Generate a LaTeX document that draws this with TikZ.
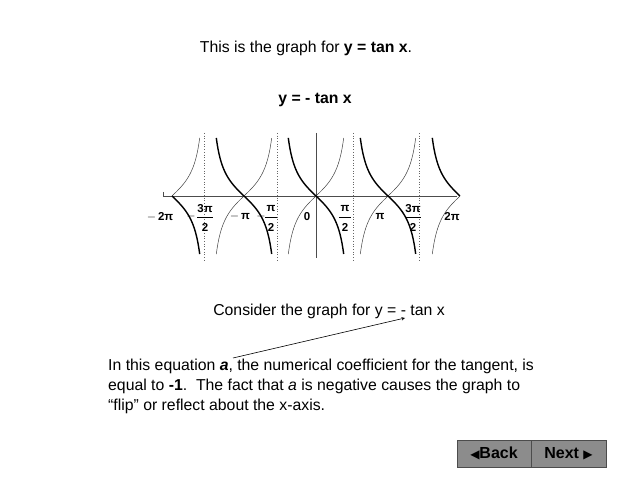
\documentclass[tikz,border=0pt]{standalone}
\usepackage{fontspec}
\setmainfont{Liberation Sans}
\newfontfamily\djv{DejaVu Sans}
\begin{document}
\begin{tikzpicture}[x=1pt,y=-1pt,
  txt/.style={inner sep=0pt,font=\fontsize{15.8}{20}\selectfont},
  lab/.style={inner sep=0pt,font=\fontsize{11.5}{12}\selectfont\bfseries},
  btn/.style={draw=black!70,fill=black!45,minimum height=27pt,inner sep=0pt,font=\fontsize{16}{16}\selectfont\bfseries},
  thin/.style={black!75,line width=0.5pt},
  thick/.style={black,line width=1.4pt},
  asym/.style={black!60,dotted,line width=0.7pt}]
\useasboundingbox (0,0) rectangle (638,478);
\node[txt] (t1) at (306,48) {This is the graph for \textbf{y = tan x}.};
\node[txt,font=\fontsize{15.8}{20}\selectfont\bfseries] (t2) at (315,100) {y = - tan x};
% axes
\draw[black!70,line width=0.6pt] (163,196) -- (457,196);
\draw[black!70,line width=0.6pt] (163,192) -- (163,196);
\draw[black!70,line width=0.6pt] (316,133) -- (316,258);
\foreach \xx in {204,277,353,419} \draw[asym] (\xx,133) -- (\xx,262);
% curves
\foreach \a/\b in {-6.283/-5.074,-4.350/-1.933,-1.209/1.209,1.933/4.350,5.074/6.283}{
  \draw[thin] plot[domain=\a:\b,samples=60,smooth] ({316+22.92*\x},{196-22*tan(\x r)});
  \draw[thick] plot[domain=\a:\b,samples=60,smooth] ({316+22.92*\x},{196+22*tan(\x r)});
}
% labels
\node[lab] (l1) at (160,217) {$-$\,2π};
\node[lab] (l2n) at (205,209) {3π};
\node[lab] (l2d) at (205,227) {2};
\draw[line width=0.5pt] (197,217.5) -- (213,217.5);
\node[lab] (l2m) at (191,217) {$-$};
\node[lab] (l3) at (240,217) {$-$\,π};
\node[lab] (l4n) at (271,209) {π};
\node[lab] (l4d) at (271,227) {2};
\draw[line width=0.5pt] (265,217.5) -- (277,217.5);
\node[lab] (l4m) at (261,217) {$-$};
\node[lab] (l5) at (307,217) {0};
\node[lab] (l6n) at (345,209) {π};
\node[lab] (l6d) at (345,227) {2};
\draw[line width=0.5pt] (339,217.5) -- (351,217.5);
\node[lab] (l7) at (380,217) {π};
\node[lab] (l8n) at (413,209) {3π};
\node[lab] (l8d) at (413,227) {2};
\draw[line width=0.5pt] (405,217.5) -- (421,217.5);
\node[lab] (l9) at (452,217) {2π};
% texts
\node[txt] (t3) at (329,311) {Consider the graph for y = - tan x};
\node[txt,anchor=north west,align=left] (t4) at (108,359) {In this equation \textbf{\textit{a}}, the numerical coefficient for the tangent, is\\equal to \textbf{-1}.\ \ The fact that \textit{a} is negative causes the graph to\\“flip” or reflect about the x-axis.};
\coordinate (as) at (233,358);
\coordinate (ae) at (405,318);
\draw[-stealth,line width=0.6pt] (as) -- (ae);
% buttons
\node[btn,minimum width=74pt] (back) at (494,453.5) {{\djv\fontsize{12}{12}\selectfont ◀}Back};
\node[btn,minimum width=75pt] (next) at (568.5,453.5) {Next {\djv\fontsize{12}{12}\selectfont ▶}};
\end{tikzpicture}
\end{document}
